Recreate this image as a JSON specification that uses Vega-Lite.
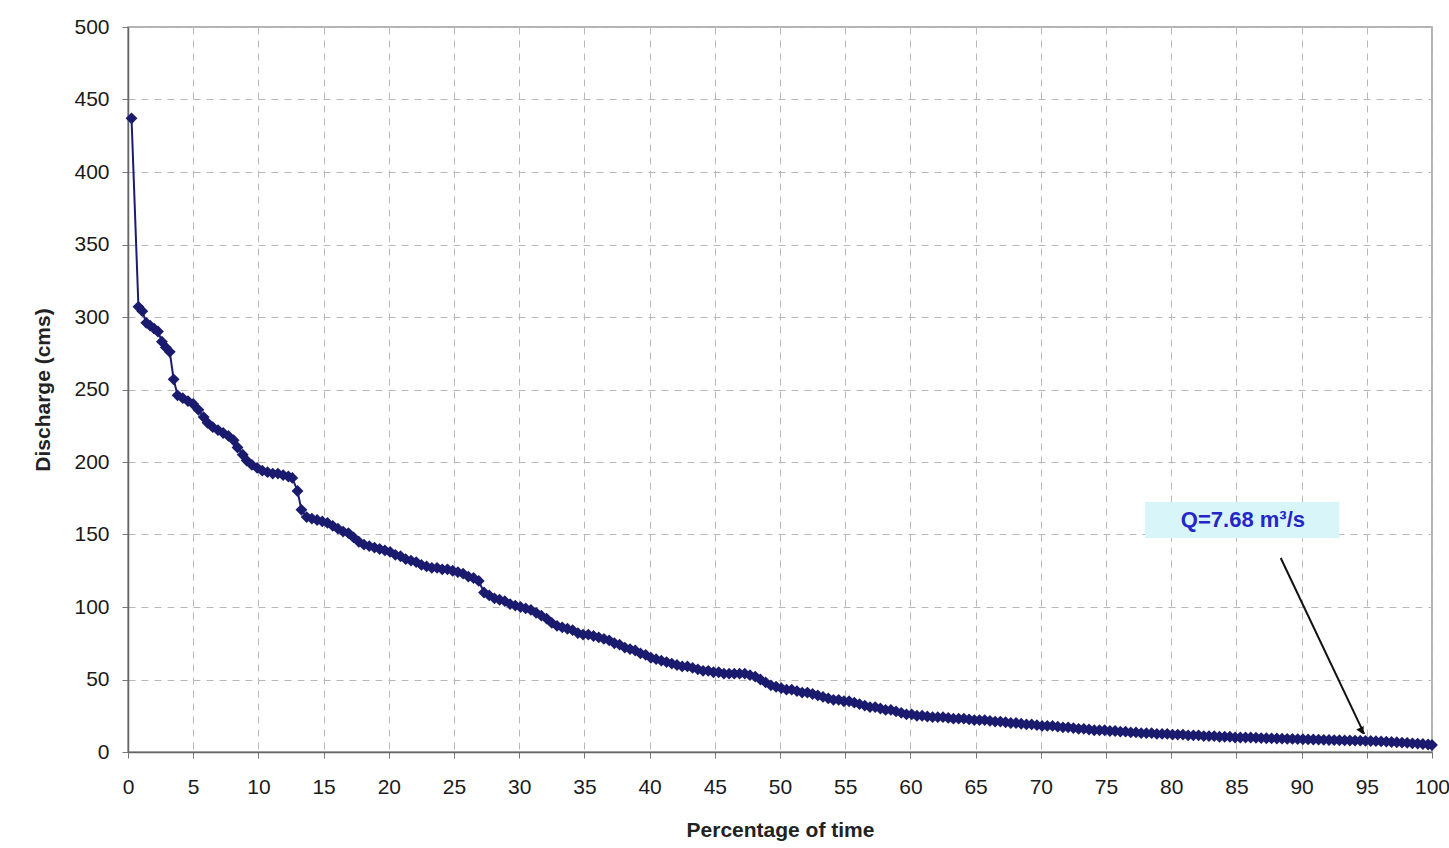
{
  "$schema": "https://vega.github.io/schema/vega-lite/v6.json",
  "width": 1304,
  "height": 725,
  "autosize": {"type": "none"},
  "padding": {"left": 128, "top": 27, "right": 17, "bottom": 96},
  "background": "white",
  "config": {
    "view": {"stroke": "#9a9a9a", "strokeWidth": 1.5},
    "font": "Liberation Sans"
  },
  "datasets": {
    "flow": [
      {"p": 0.27, "q": 437}, {"p": 0.8, "q": 307}, {"p": 1.1, "q": 304}, {"p": 1.4, "q": 296}, {"p": 1.7, "q": 294},
      {"p": 2.0, "q": 292}, {"p": 2.3, "q": 290}, {"p": 2.6, "q": 283}, {"p": 2.9, "q": 279}, {"p": 3.2, "q": 276},
      {"p": 3.5, "q": 257}, {"p": 3.8, "q": 246}, {"p": 4.2, "q": 244}, {"p": 4.6, "q": 242}, {"p": 5.0, "q": 240},
      {"p": 5.4, "q": 236}, {"p": 5.8, "q": 231}, {"p": 6.1, "q": 227}, {"p": 6.5, "q": 224}, {"p": 6.9, "q": 222},
      {"p": 7.3, "q": 220}, {"p": 7.7, "q": 218}, {"p": 8.1, "q": 215}, {"p": 8.4, "q": 210}, {"p": 8.8, "q": 205},
      {"p": 9.1, "q": 201}, {"p": 9.5, "q": 198}, {"p": 9.9, "q": 196}, {"p": 10.3, "q": 194}, {"p": 10.7, "q": 193},
      {"p": 11.1, "q": 192}, {"p": 11.5, "q": 192}, {"p": 11.9, "q": 191}, {"p": 12.3, "q": 190}, {"p": 12.6, "q": 189},
      {"p": 13.0, "q": 180}, {"p": 13.3, "q": 167}, {"p": 13.7, "q": 162}, {"p": 14.1, "q": 161}, {"p": 14.5, "q": 160},
      {"p": 14.9, "q": 159}, {"p": 15.3, "q": 158}, {"p": 15.7, "q": 156}, {"p": 16.1, "q": 154}, {"p": 16.5, "q": 152},
      {"p": 16.9, "q": 151}, {"p": 17.3, "q": 148}, {"p": 17.7, "q": 145}, {"p": 18.1, "q": 143}, {"p": 18.5, "q": 142},
      {"p": 18.9, "q": 141}, {"p": 19.3, "q": 140}, {"p": 19.7, "q": 139}, {"p": 20.1, "q": 138}, {"p": 20.5, "q": 136},
      {"p": 20.9, "q": 135}, {"p": 21.3, "q": 133}, {"p": 21.7, "q": 132}, {"p": 22.1, "q": 131}, {"p": 22.5, "q": 129},
      {"p": 22.9, "q": 128}, {"p": 23.3, "q": 127}, {"p": 23.7, "q": 127}, {"p": 24.1, "q": 126}, {"p": 24.5, "q": 126},
      {"p": 24.9, "q": 125}, {"p": 25.3, "q": 124}, {"p": 25.7, "q": 123}, {"p": 26.1, "q": 121}, {"p": 26.5, "q": 120},
      {"p": 26.9, "q": 118}, {"p": 27.3, "q": 110}, {"p": 27.7, "q": 108}, {"p": 28.1, "q": 106}, {"p": 28.5, "q": 105},
      {"p": 28.9, "q": 104}, {"p": 29.3, "q": 102}, {"p": 29.7, "q": 101}, {"p": 30.1, "q": 100}, {"p": 30.5, "q": 99},
      {"p": 30.9, "q": 98}, {"p": 31.3, "q": 96}, {"p": 31.7, "q": 94}, {"p": 32.1, "q": 92}, {"p": 32.5, "q": 89},
      {"p": 32.9, "q": 87}, {"p": 33.3, "q": 86}, {"p": 33.7, "q": 85}, {"p": 34.1, "q": 84}, {"p": 34.5, "q": 82},
      {"p": 34.9, "q": 81}, {"p": 35.3, "q": 81}, {"p": 35.7, "q": 80}, {"p": 36.1, "q": 79}, {"p": 36.5, "q": 78},
      {"p": 36.9, "q": 77}, {"p": 37.3, "q": 75}, {"p": 37.7, "q": 74}, {"p": 38.1, "q": 72}, {"p": 38.5, "q": 71},
      {"p": 38.9, "q": 70}, {"p": 39.3, "q": 68}, {"p": 39.7, "q": 67}, {"p": 40.1, "q": 65}, {"p": 40.5, "q": 64},
      {"p": 40.9, "q": 63}, {"p": 41.3, "q": 62}, {"p": 41.7, "q": 61}, {"p": 42.1, "q": 60}, {"p": 42.5, "q": 59},
      {"p": 42.9, "q": 59}, {"p": 43.3, "q": 58}, {"p": 43.7, "q": 57}, {"p": 44.1, "q": 56}, {"p": 44.5, "q": 56},
      {"p": 44.9, "q": 55}, {"p": 45.3, "q": 55}, {"p": 45.7, "q": 54}, {"p": 46.1, "q": 54}, {"p": 46.5, "q": 54},
      {"p": 46.9, "q": 54}, {"p": 47.3, "q": 54}, {"p": 47.7, "q": 53}, {"p": 48.1, "q": 52}, {"p": 48.5, "q": 50},
      {"p": 48.9, "q": 48}, {"p": 49.3, "q": 46}, {"p": 49.7, "q": 45}, {"p": 50.1, "q": 44}, {"p": 50.5, "q": 43},
      {"p": 50.9, "q": 43}, {"p": 51.3, "q": 42}, {"p": 51.7, "q": 41}, {"p": 52.1, "q": 41}, {"p": 52.5, "q": 40},
      {"p": 52.9, "q": 39}, {"p": 53.3, "q": 38}, {"p": 53.7, "q": 37}, {"p": 54.1, "q": 36}, {"p": 54.5, "q": 36},
      {"p": 54.9, "q": 35}, {"p": 55.3, "q": 35}, {"p": 55.7, "q": 34}, {"p": 56.1, "q": 33}, {"p": 56.5, "q": 32},
      {"p": 56.9, "q": 31}, {"p": 57.3, "q": 31}, {"p": 57.7, "q": 30}, {"p": 58.1, "q": 29}, {"p": 58.5, "q": 29},
      {"p": 58.9, "q": 28}, {"p": 59.3, "q": 27}, {"p": 59.7, "q": 26}, {"p": 60.1, "q": 26}, {"p": 60.5, "q": 25},
      {"p": 60.9, "q": 25}, {"p": 61.3, "q": 24.5}, {"p": 61.7, "q": 24}, {"p": 62.1, "q": 24}, {"p": 62.5, "q": 24},
      {"p": 62.9, "q": 23.5}, {"p": 63.3, "q": 23}, {"p": 63.7, "q": 23}, {"p": 64.1, "q": 23}, {"p": 64.5, "q": 22.5},
      {"p": 64.9, "q": 22}, {"p": 65.3, "q": 22}, {"p": 65.7, "q": 22}, {"p": 66.1, "q": 21.5}, {"p": 66.5, "q": 21},
      {"p": 66.9, "q": 21}, {"p": 67.3, "q": 20.5}, {"p": 67.7, "q": 20}, {"p": 68.1, "q": 20}, {"p": 68.5, "q": 19.5},
      {"p": 68.9, "q": 19}, {"p": 69.3, "q": 19}, {"p": 69.7, "q": 18.5}, {"p": 70.1, "q": 18}, {"p": 70.5, "q": 18},
      {"p": 70.9, "q": 18}, {"p": 71.3, "q": 17.5}, {"p": 71.7, "q": 17}, {"p": 72.1, "q": 17}, {"p": 72.5, "q": 16.5},
      {"p": 72.9, "q": 16}, {"p": 73.3, "q": 16}, {"p": 73.7, "q": 15.5}, {"p": 74.1, "q": 15}, {"p": 74.5, "q": 15},
      {"p": 74.9, "q": 15}, {"p": 75.3, "q": 14.5}, {"p": 75.7, "q": 14.5}, {"p": 76.1, "q": 14}, {"p": 76.5, "q": 14},
      {"p": 76.9, "q": 13.5}, {"p": 77.3, "q": 13.5}, {"p": 77.7, "q": 13}, {"p": 78.1, "q": 13}, {"p": 78.5, "q": 13},
      {"p": 78.9, "q": 12.5}, {"p": 79.3, "q": 12.5}, {"p": 79.7, "q": 12.5}, {"p": 80.1, "q": 12}, {"p": 80.5, "q": 12},
      {"p": 80.9, "q": 12}, {"p": 81.3, "q": 11.5}, {"p": 81.7, "q": 11.5}, {"p": 82.1, "q": 11.5}, {"p": 82.5, "q": 11},
      {"p": 82.9, "q": 11}, {"p": 83.3, "q": 11}, {"p": 83.7, "q": 10.5}, {"p": 84.1, "q": 10.5}, {"p": 84.5, "q": 10.5},
      {"p": 84.9, "q": 10}, {"p": 85.3, "q": 10}, {"p": 85.7, "q": 10}, {"p": 86.1, "q": 10}, {"p": 86.5, "q": 9.8},
      {"p": 86.9, "q": 9.6}, {"p": 87.3, "q": 9.5}, {"p": 87.7, "q": 9.4}, {"p": 88.1, "q": 9.3}, {"p": 88.5, "q": 9.2},
      {"p": 88.9, "q": 9.1}, {"p": 89.3, "q": 9.0}, {"p": 89.7, "q": 8.9}, {"p": 90.1, "q": 8.8}, {"p": 90.5, "q": 8.7},
      {"p": 90.9, "q": 8.6}, {"p": 91.3, "q": 8.5}, {"p": 91.7, "q": 8.4}, {"p": 92.1, "q": 8.3}, {"p": 92.5, "q": 8.2},
      {"p": 92.9, "q": 8.1}, {"p": 93.3, "q": 8.0}, {"p": 93.7, "q": 7.95}, {"p": 94.1, "q": 7.9}, {"p": 94.5, "q": 7.8},
      {"p": 94.9, "q": 7.7}, {"p": 95.3, "q": 7.6}, {"p": 95.7, "q": 7.5}, {"p": 96.1, "q": 7.3}, {"p": 96.5, "q": 7.1},
      {"p": 96.9, "q": 6.9}, {"p": 97.3, "q": 6.7}, {"p": 97.7, "q": 6.5}, {"p": 98.1, "q": 6.3}, {"p": 98.5, "q": 6.0},
      {"p": 98.9, "q": 5.8}, {"p": 99.3, "q": 5.5}, {"p": 99.7, "q": 5.2}, {"p": 100, "q": 4.8}
    ],
    "box": [{"x1": 78.0, "x2": 92.9, "y1": 147.6, "y2": 172.4, "xc": 85.5, "yc": 160, "label": "Q=7.68 m³/s"}],
    "arrow": [{"x1": 88.4, "y1": 133.8, "x2": 94.8, "y2": 12.5, "hx": 94.6, "hy": 14.5}]
  },
  "layer": [
    {
      "data": {"name": "box"},
      "mark": {"type": "rect", "fill": "#d8f6fa", "stroke": null},
      "encoding": {
        "x": {"field": "x1", "type": "quantitative", "scale": {"domain": [0, 100], "nice": false},
          "axis": {
            "title": "Percentage of time", "titleFont": "Liberation Sans", "titleFontSize": 21, "titleFontWeight": "bold",
            "titleColor": "#222222", "titlePadding": 22,
            "values": [0,5,10,15,20,25,30,35,40,45,50,55,60,65,70,75,80,85,90,95,100],
            "labelFont": "Liberation Sans", "labelFontSize": 21, "labelColor": "#1a1a1a", "labelPadding": 18,
            "labelFlush": false, "labelOverlap": false,
            "tickSize": 6, "tickColor": "#777777", "domainColor": "#666666", "domainWidth": 1.5,
            "grid": true, "gridColor": "#b8b8b8", "gridDash": [7, 6], "gridWidth": 1
          }},
        "x2": {"field": "x2"},
        "y": {"field": "y1", "type": "quantitative", "scale": {"domain": [0, 500], "nice": false},
          "axis": {
            "title": "Discharge (cms)", "titleFont": "Liberation Sans", "titleFontSize": 21, "titleFontWeight": "bold",
            "titleColor": "#222222", "titlePadding": 20,
            "values": [0,50,100,150,200,250,300,350,400,450,500],
            "labelFont": "Liberation Sans", "labelFontSize": 21, "labelColor": "#1a1a1a", "labelPadding": 13,
            "tickSize": 6, "tickColor": "#777777", "domainColor": "#666666", "domainWidth": 1.5,
            "grid": true, "gridColor": "#b8b8b8", "gridDash": [7, 6], "gridWidth": 1
          }},
        "y2": {"field": "y2"}
      }
    },
    {
      "data": {"name": "box"},
      "mark": {"type": "text", "font": "Liberation Sans", "fontSize": 22, "fontWeight": "bold", "color": "#2626c8", "align": "center", "baseline": "middle"},
      "encoding": {
        "x": {"field": "xc", "type": "quantitative"},
        "y": {"field": "yc", "type": "quantitative"},
        "text": {"field": "label"}
      }
    },
    {
      "data": {"name": "flow"},
      "mark": {"type": "line", "color": "#1c1c72", "strokeWidth": 2},
      "encoding": {
        "x": {"field": "p", "type": "quantitative"},
        "y": {"field": "q", "type": "quantitative"}
      }
    },
    {
      "data": {"name": "flow"},
      "mark": {"type": "point", "shape": "diamond", "filled": true, "size": 140, "color": "#1a1a6e", "opacity": 1},
      "encoding": {
        "x": {"field": "p", "type": "quantitative"},
        "y": {"field": "q", "type": "quantitative"}
      }
    },
    {
      "data": {"name": "arrow"},
      "mark": {"type": "rule", "color": "#111111", "strokeWidth": 2},
      "encoding": {
        "x": {"field": "x1", "type": "quantitative"},
        "y": {"field": "y1", "type": "quantitative"},
        "x2": {"field": "x2"},
        "y2": {"field": "y2"}
      }
    },
    {
      "data": {"name": "arrow"},
      "mark": {"type": "point", "shape": "triangle-up", "filled": true, "size": 70, "color": "#111111", "opacity": 1, "angle": 154.4},
      "encoding": {
        "x": {"field": "hx", "type": "quantitative"},
        "y": {"field": "hy", "type": "quantitative"}
      }
    }
  ]
}
